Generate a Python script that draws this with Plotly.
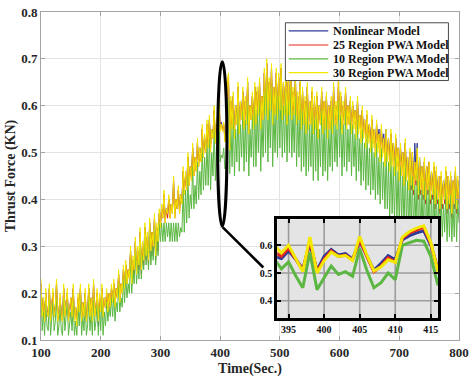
import numpy as np
import plotly.graph_objects as go

# ---------------- data (main view: samples every 2 s from 100 to 800 s) ----------------
t_start, t_end, t_step = 100, 800, 2

nonlinear = [
    .22, .16, .19, .15, .20, .16, .16, .21, .15, .18,
    .20, .16, .17, .22, .15, .16, .19, .16, .15, .21,
    .16, .18, .20, .15, .16, .19, .16, .21, .15, .17,
    .14, .19, .16, .21, .15, .18, .16, .20, .15, .16,
    .21, .16, .19, .15, .22, .16, .17, .20, .13, .19,
    .17, .21, .16, .19, .17, .20, .17, .20, .17, .21,
    .19, .22, .18, .21, .19, .24, .19, .22, .21, .25,
    .22, .26, .23, .25, .24, .29, .23, .27, .25, .31,
    .25, .29, .27, .33, .26, .30, .28, .34, .29, .32,
    .28, .35, .30, .33, .31, .36, .29, .34, .32, .37,
    .35, .38, .37, .41, .36, .38, .37, .40, .37, .39,
    .38, .44, .37, .40, .38, .42, .38, .41, .40, .46,
    .42, .45, .43, .49, .44, .47, .45, .51, .46, .49,
    .47, .52, .48, .51, .49, .55, .50, .53, .51, .56,
    .52, .57, .52, .55, .54, .59, .53, .552, .55, .605,
    .56, .565, .55, .56, .535, .548, .635, .652, .515, .61,
    .56, .62, .55, .60, .57, .64, .55, .61, .58, .63,
    .56, .61, .57, .65, .55, .60, .58, .62, .56, .64,
    .57, .63, .59, .65, .56, .62, .58, .67, .59, .69,
    .58, .65, .60, .68, .57, .64, .59, .67, .58, .66,
    .60, .68, .58, .65, .59, .67, .57, .65, .59, .68,
    .58, .63, .59, .66, .57, .62, .58, .65, .56, .63,
    .57, .61, .55, .64, .56, .61, .57, .63, .55, .61,
    .56, .62, .54, .60, .57, .63, .55, .61, .56, .62,
    .55, .60, .56, .61, .56, .64, .57, .60, .57, .64,
    .58, .62, .56, .60, .57, .63, .57, .60, .57, .61,
    .56, .60, .57, .59, .55, .61, .56, .58, .54, .59,
    .55, .57, .53, .58, .54, .56, .53, .57, .53, .55,
    .52, .56, .52, .55, .51, .55, .52, .54, .50, .55,
    .50, .53, .49, .54, .50, .52, .48, .53, .49, .51,
    .47, .51, .48, .50, .46, .52, .47, .49, .45, .50,
    .45, .50, .44, .52, .46, .52, .43, .49, .44, .47,
    .43, .48, .42, .47, .44, .48, .42, .46, .43, .47,
    .41, .46, .42, .45, .40, .45, .41, .44, .42, .46,
    .40, .45, .41, .45, .39, .44, .41, .46, .40, .44,
    .41,
]

pwa25 = [
    .22, .15, .19, .14, .20, .16, .15, .21, .14, .18,
    .20, .15, .17, .22, .14, .16, .19, .15, .14, .21,
    .15, .18, .20, .14, .16, .19, .15, .21, .14, .17,
    .13, .19, .16, .21, .14, .18, .15, .20, .14, .16,
    .21, .15, .19, .14, .22, .15, .17, .20, .14, .19,
    .16, .21, .15, .19, .17, .20, .16, .20, .17, .21,
    .18, .22, .17, .21, .19, .24, .18, .22, .20, .25,
    .21, .26, .22, .25, .23, .29, .22, .27, .24, .31,
    .24, .29, .25, .33, .24, .30, .26, .34, .27, .32,
    .26, .35, .28, .33, .28, .36, .27, .34, .29, .37,
    .34, .38, .36, .41, .35, .38, .36, .40, .36, .39,
    .37, .44, .36, .40, .38, .42, .37, .41, .39, .46,
    .41, .45, .42, .49, .43, .47, .44, .51, .45, .49,
    .46, .52, .47, .51, .48, .55, .49, .53, .50, .56,
    .51, .57, .51, .55, .53, .59, .52, .56, .55, .615,
    .55, .56, .548, .56, .525, .54, .645, .665, .51, .61,
    .55, .62, .54, .60, .56, .64, .54, .61, .57, .63,
    .55, .61, .56, .65, .54, .60, .57, .62, .55, .64,
    .56, .63, .58, .65, .55, .62, .57, .67, .58, .69,
    .57, .65, .59, .68, .56, .64, .58, .67, .57, .66,
    .59, .68, .57, .65, .58, .67, .56, .65, .58, .68,
    .57, .63, .58, .66, .56, .62, .57, .65, .55, .63,
    .56, .61, .54, .64, .55, .61, .56, .63, .54, .61,
    .55, .62, .53, .60, .56, .63, .54, .61, .55, .62,
    .54, .60, .55, .61, .55, .64, .56, .60, .56, .65,
    .57, .62, .55, .60, .56, .63, .56, .60, .56, .61,
    .55, .60, .56, .59, .54, .61, .55, .58, .53, .59,
    .54, .57, .52, .58, .53, .56, .51, .57, .52, .55,
    .50, .56, .51, .54, .49, .55, .50, .53, .48, .54,
    .49, .53, .47, .54, .48, .52, .46, .53, .47, .51,
    .44, .51, .45, .50, .43, .52, .44, .49, .42, .50,
    .42, .50, .41, .48, .43, .50, .40, .48, .41, .47,
    .40, .48, .39, .47, .41, .48, .39, .46, .40, .47,
    .38, .46, .39, .45, .37, .45, .38, .44, .39, .46,
    .37, .45, .38, .45, .36, .44, .38, .46, .37, .44,
    .39,
]

pwa10 = [
    .20, .12, .16, .11, .18, .13, .12, .19, .11, .15,
    .18, .12, .14, .19, .11, .13, .17, .12, .11, .19,
    .12, .15, .18, .11, .13, .16, .12, .18, .11, .14,
    .11, .17, .13, .19, .11, .15, .12, .18, .11, .13,
    .19, .12, .16, .11, .19, .12, .14, .18, .11, .17,
    .12, .19, .11, .16, .13, .18, .14, .17, .15, .19,
    .15, .20, .14, .18, .16, .22, .16, .19, .17, .23,
    .18, .24, .19, .22, .20, .27, .20, .25, .22, .29,
    .22, .27, .23, .31, .23, .28, .25, .32, .26, .30,
    .25, .33, .26, .30, .27, .34, .26, .32, .28, .35,
    .31, .35, .31, .35, .31, .35, .32, .35, .31, .35,
    .31, .35, .31, .35, .31, .35, .32, .34, .33, .42,
    .33, .42, .35, .45, .36, .41, .38, .47, .38, .43,
    .39, .48, .40, .46, .41, .51, .42, .49, .43, .52,
    .43, .53, .42, .50, .45, .55, .44, .515, .49, .575,
    .48, .495, .488, .51, .465, .476, .61, .615, .455, .56,
    .47, .58, .45, .55, .48, .60, .46, .56, .49, .59,
    .46, .57, .48, .61, .45, .55, .49, .58, .47, .60,
    .47, .59, .50, .61, .46, .57, .49, .63, .50, .65,
    .48, .61, .51, .64, .47, .59, .50, .63, .49, .62,
    .51, .64, .49, .60, .50, .63, .48, .61, .50, .64,
    .49, .59, .50, .62, .47, .58, .49, .61, .46, .59,
    .47, .57, .45, .60, .46, .56, .47, .59, .44, .57,
    .46, .58, .44, .55, .47, .59, .45, .56, .46, .58,
    .44, .55, .47, .57, .46, .60, .48, .56, .47, .61,
    .49, .58, .45, .56, .47, .59, .46, .55, .48, .57,
    .45, .56, .47, .54, .44, .57, .46, .53, .43, .55,
    .44, .52, .42, .54, .43, .51, .41, .53, .42, .50,
    .40, .52, .41, .49, .39, .51, .40, .48, .38, .50,
    .38, .48, .36, .50, .37, .47, .35, .49, .36, .46,
    .34, .47, .35, .45, .33, .48, .34, .44, .32, .46,
    .33, .45, .32, .43, .34, .46, .31, .44, .32, .42,
    .32, .44, .31, .42, .33, .43, .31, .41, .32, .43,
    .31, .42, .32, .40, .31, .41, .32, .39, .33, .42,
    .31, .40, .32, .41, .31, .39, .32, .42, .31, .40,
    .35,
]

pwa30 = [
    .23, .15, .19, .14, .21, .16, .15, .22, .14, .18,
    .21, .15, .17, .23, .14, .16, .20, .15, .14, .22,
    .15, .18, .21, .14, .16, .19, .15, .22, .14, .17,
    .13, .20, .16, .22, .14, .18, .15, .21, .14, .16,
    .22, .15, .19, .14, .23, .15, .17, .21, .14, .20,
    .16, .22, .15, .19, .17, .21, .16, .20, .17, .22,
    .18, .23, .17, .21, .19, .25, .18, .22, .20, .26,
    .21, .27, .22, .25, .23, .30, .22, .28, .25, .32,
    .24, .30, .26, .34, .25, .31, .27, .35, .28, .33,
    .27, .36, .29, .33, .30, .37, .28, .35, .31, .38,
    .34, .39, .36, .42, .35, .38, .37, .41, .36, .39,
    .37, .45, .36, .40, .38, .43, .37, .41, .39, .47,
    .41, .46, .42, .50, .43, .47, .44, .52, .45, .49,
    .46, .53, .47, .51, .48, .56, .49, .54, .50, .57,
    .51, .58, .50, .55, .53, .60, .52, .572, .555, .63,
    .545, .56, .545, .565, .522, .538, .65, .67, .505, .62,
    .55, .63, .53, .60, .56, .65, .54, .61, .57, .64,
    .55, .62, .56, .66, .54, .60, .57, .63, .55, .65,
    .56, .64, .58, .66, .55, .62, .57, .68, .58, .70,
    .57, .66, .59, .69, .56, .64, .58, .68, .57, .67,
    .59, .69, .57, .65, .58, .68, .56, .66, .58, .69,
    .57, .64, .58, .67, .56, .63, .57, .66, .55, .64,
    .56, .62, .54, .65, .55, .61, .56, .64, .54, .62,
    .55, .63, .53, .60, .56, .64, .54, .61, .55, .63,
    .53, .60, .55, .62, .54, .65, .56, .61, .55, .66,
    .57, .63, .54, .61, .56, .64, .55, .60, .56, .62,
    .54, .61, .55, .59, .53, .62, .54, .58, .52, .60,
    .53, .57, .51, .59, .52, .56, .50, .58, .51, .55,
    .49, .57, .50, .54, .48, .56, .49, .53, .47, .55,
    .48, .53, .46, .55, .47, .52, .45, .54, .46, .51,
    .44, .52, .45, .50, .43, .53, .44, .49, .42, .51,
    .43, .50, .42, .48, .44, .51, .41, .49, .42, .47,
    .41, .49, .40, .47, .42, .48, .40, .46, .41, .48,
    .39, .47, .40, .45, .38, .46, .39, .44, .40, .47,
    .38, .45, .39, .46, .37, .44, .39, .47, .38, .45,
    .40,
]

# ---------------- data (zoomed view: 1 s samples, 393..416 s) ----------------
zoom_start, zoom_end = 393, 416
zoom_nonlinear = [.560, .552, .580, .550, .515, .605, .510, .560, .585, .565, .570, .550,
                  .615, .560, .510, .535, .563, .548, .620, .635, .645, .652, .600, .515]
zoom_pwa25 = [.575, .560, .590, .550, .510, .615, .505, .550, .580, .560, .565, .548,
              .620, .560, .505, .525, .555, .540, .625, .645, .655, .665, .605, .510]
zoom_pwa10 = [.550, .515, .540, .490, .447, .575, .440, .480, .525, .495, .505, .488,
              .588, .510, .447, .465, .500, .476, .600, .610, .618, .615, .560, .455]
zoom_pwa30 = [.600, .572, .600, .555, .505, .630, .500, .545, .575, .560, .563, .545,
              .632, .565, .508, .522, .548, .538, .630, .650, .662, .670, .610, .505]

main_xticks = [100, 200, 300, 400, 500, 600, 700, 800]
main_yticks = [0.1, 0.2, 0.3, 0.4, 0.5, 0.6, 0.7, 0.8]
zoom_xticks = [395, 400, 405, 410, 415]
zoom_yticks = [0.4, 0.5, 0.6]

series_names = ["Nonlinear Model", "25 Region PWA Model", "10 Region PWA Model", "30 Region PWA Model"]

# ---------------- styles / layout constants ----------------
COLORS = ["#2b3a98", "#e5261f", "#5bb742", "#f3e800"]
FONT = "Liberation Serif, Times New Roman, serif"
W, H = 474, 379
ML, MR, MT, MB = 41, 10, 5, 39
PW, PH = W - ML - MR, H - MT - MB
ZOOM_XRANGE = [393.4, 416.0]
ZOOM_YRANGE = [0.337, 0.694]


def px_x(px):
    return (px - ML) / PW


def px_y(py):
    return (H - MB - py) / PH


t_main = np.arange(t_start, t_end + 1, t_step)
t_zoom = np.arange(zoom_start, zoom_end + 1)
main_series = [nonlinear, pwa25, pwa10, pwa30]
zoom_series = [zoom_nonlinear, zoom_pwa25, zoom_pwa10, zoom_pwa30]
for s in main_series:
    assert len(s) == len(t_main), len(s)
for s in zoom_series:
    assert len(s) == len(t_zoom)

fig = go.Figure()

# main curves
for name, vals, col in zip(series_names, main_series, COLORS):
    fig.add_trace(go.Scatter(x=t_main, y=vals, mode="lines", name=name,
                             line=dict(color=col, width=1), showlegend=False,
                             xaxis="x", yaxis="y"))

# inset background (drawn as a filled trace so it hides the main curves below it)
zx0, zx1 = ZOOM_XRANGE
zy0, zy1 = ZOOM_YRANGE
fig.add_trace(go.Scatter(x=[zx0, zx1, zx1, zx0, zx0], y=[zy0, zy0, zy1, zy1, zy0],
                         mode="lines", fill="toself", fillcolor="#e4e4e4",
                         line=dict(width=0), hoverinfo="skip", showlegend=False,
                         xaxis="x2", yaxis="y2"))
# inset grid lines
gx, gy = [], []
for v in zoom_xticks:
    gx += [v, v, None]
    gy += [zy0, zy1, None]
for v in zoom_yticks:
    gx += [zx0, zx1, None]
    gy += [v, v, None]
fig.add_trace(go.Scatter(x=gx, y=gy, mode="lines", line=dict(color="#9c9c9c", width=1.6),
                         hoverinfo="skip", showlegend=False, xaxis="x2", yaxis="y2"))

# inset curves
for name, vals, col in zip(series_names, zoom_series, COLORS):
    fig.add_trace(go.Scatter(x=t_zoom, y=vals, mode="lines", name=name,
                             line=dict(color=col, width=3), showlegend=False,
                             xaxis="x2", yaxis="y2"))

tickfont_main = dict(family=FONT, size=13, color="#262626", weight="bold")
tickfont_zoom = dict(family=FONT, size=10, color="#111111", weight="bold")

fig.update_layout(
    width=W, height=H,
    margin=dict(l=ML, r=MR, t=MT, b=MB),
    paper_bgcolor="white", plot_bgcolor="white",
    showlegend=False,
    xaxis=dict(domain=[0, 1], range=[t_start, t_end], tickvals=main_xticks,
               showgrid=True, gridcolor="#e3e3e3", gridwidth=1, zeroline=False,
               showline=True, linecolor="#a3a3a3", linewidth=1, mirror="ticks",
               ticks="inside", ticklen=4, tickcolor="#a3a3a3",
               tickfont=tickfont_main, ticklabeloverflow="allow",
               title=dict(text="Time(Sec.)", font=dict(family=FONT, size=14, color="#262626", weight="bold"),
                          standoff=4)),
    yaxis=dict(domain=[0, 1], range=[0.1, 0.8], tickvals=main_yticks, tickformat=".1f",
               showgrid=True, gridcolor="#e3e3e3", gridwidth=1, zeroline=False,
               showline=True, linecolor="#a3a3a3", linewidth=1, mirror="ticks",
               ticks="inside", ticklen=4, tickcolor="#a3a3a3",
               tickfont=tickfont_main, ticklabeloverflow="allow",
               title=dict(text="Thrust Force (KN)", font=dict(family=FONT, size=14, color="#262626", weight="bold"),
                          standoff=2)),
    xaxis2=dict(domain=[px_x(280), px_x(442.7)], anchor="y2", range=ZOOM_XRANGE,
                tickvals=zoom_xticks, showgrid=False, zeroline=False,
                showline=True, linecolor="black", linewidth=3, mirror="ticks",
                ticks="inside", ticklen=4, tickwidth=2, tickcolor="black",
                tickfont=tickfont_zoom),
    yaxis2=dict(domain=[px_y(317.7), px_y(216.7)], anchor="x2", range=ZOOM_YRANGE,
                tickvals=zoom_yticks, tickformat=".1f", showgrid=False, zeroline=False,
                showline=True, linecolor="black", linewidth=3, mirror="ticks",
                ticks="inside", ticklen=4, tickwidth=2, tickcolor="black",
                tickfont=tickfont_zoom),
)

# ellipse marking the zoomed region and pointer line
fig.add_shape(type="circle", xref="x", yref="y", x0=395.8, x1=411.4, y0=0.3424, y1=0.6938,
              line=dict(color="black", width=3))
fig.add_shape(type="line", xref="x", yref="y", x0=404.5, y0=0.3403, x1=472.3, y1=0.2547,
              line=dict(color="black", width=2.5))

# legend box (drawn manually to match the compact layout)
fig.add_shape(type="rect", xref="paper", yref="paper",
              x0=px_x(288.3), x1=px_x(453.3), y0=px_y(75), y1=px_y(16),
              fillcolor="white", line=dict(color="#4a4a4a", width=1), layer="above")
rows = [24.3, 38.7, 52.9, 67.0]
for name, col, ry in zip(series_names, COLORS, rows):
    fig.add_shape(type="line", xref="paper", yref="paper",
                  x0=px_x(291.7), x1=px_x(331.7), y0=px_y(ry), y1=px_y(ry),
                  line=dict(color=col, width=1.2), layer="above")
    fig.add_annotation(xref="paper", yref="paper", x=px_x(334.3), y=px_y(ry),
                       xanchor="left", yanchor="middle", showarrow=False, text=name,
                       font=dict(family=FONT, size=12, color="#111111", weight="bold"))

fig.write_html("out.html", config={"displayModeBar": False},
               post_script="document.body.style.margin='0';")
